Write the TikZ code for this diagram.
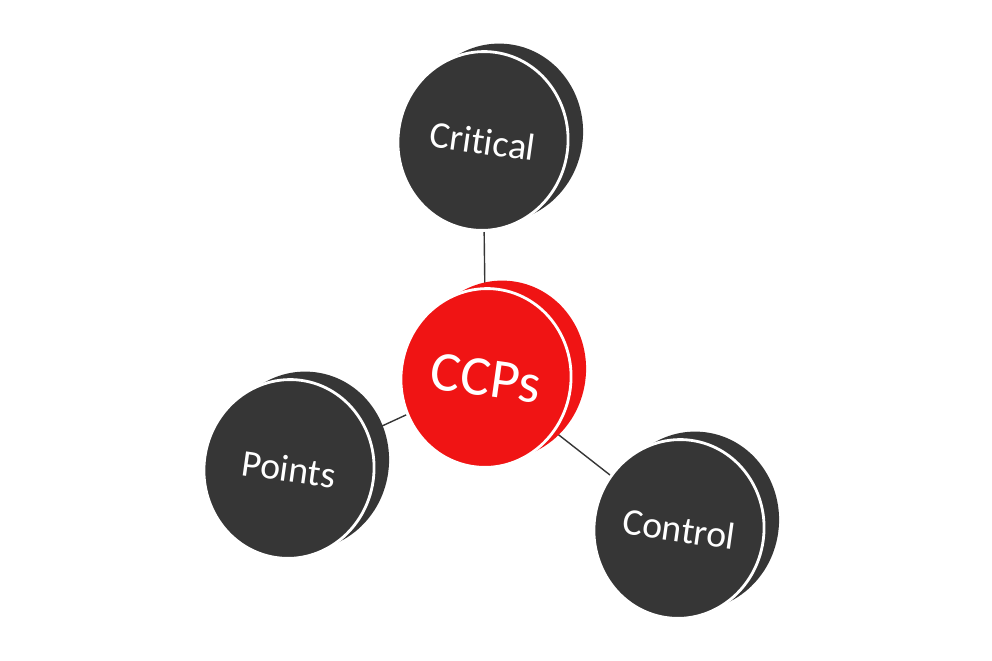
\documentclass[tikz,border=0pt]{standalone}
\usepackage{fontspec}
\setmainfont[Ligatures = NoCommon]{Carlito}
\usetikzlibrary{shapes.geometric, backgrounds}

\definecolor{discgray}{HTML}{363636}
\definecolor{discred}{HTML}{F01414}

\begin{document}
\begin{tikzpicture}[
    x = 0.02cm, y = -0.02cm,
    %
    face/.style = {ellipse, draw = white,
      line width = 1.6pt,
      inner sep = 0pt,
      minimum width = 3.4cm, minimum height = 3.58cm,
      rotate = -8, text = white,
      font = \fontsize{21.5}{21.5}\selectfont},
    rim/.style = {ellipse, inner sep = 0pt,
      minimum width = 3.4cm, minimum height = 3.58cm,
      rotate = -8},
    %
    dark/.style = {fill = discgray},
    hot/.style = {fill = discred},
    link/.style = {draw = discgray, line width = 0.8pt},
    ]

    \useasboundingbox (0, 0) rectangle (992, 661);

    % back of each disc
    \node at (498, 133) [rim, dark, name = crit_back] {};
    \node at (501, 370) [rim, hot, name = ccp_back] {};
    \node at (304, 461) [rim, dark, name = pts_back] {};
    \node at (694, 521) [rim, dark, name = ctl_back] {};

    % front faces
    \node at (483, 141)
    [face, dark, name = crit] {Critical};
    \node at (486, 378)
    [face, hot, name = ccp, font = \fontsize{32}{32}\selectfont] {CCPs};
    \node at (289, 469)
    [face, dark, name = pts] {Points};
    \node at (679, 529)
    [face, dark, name = ctl] {Control};

    \begin{scope}[on background layer]
      \draw [link] (crit) to (ccp);
      \draw [link] (ccp) to (pts);
      \draw [link] (ccp) to (ctl);
    \end{scope}

  \end{tikzpicture}
\end{document}
